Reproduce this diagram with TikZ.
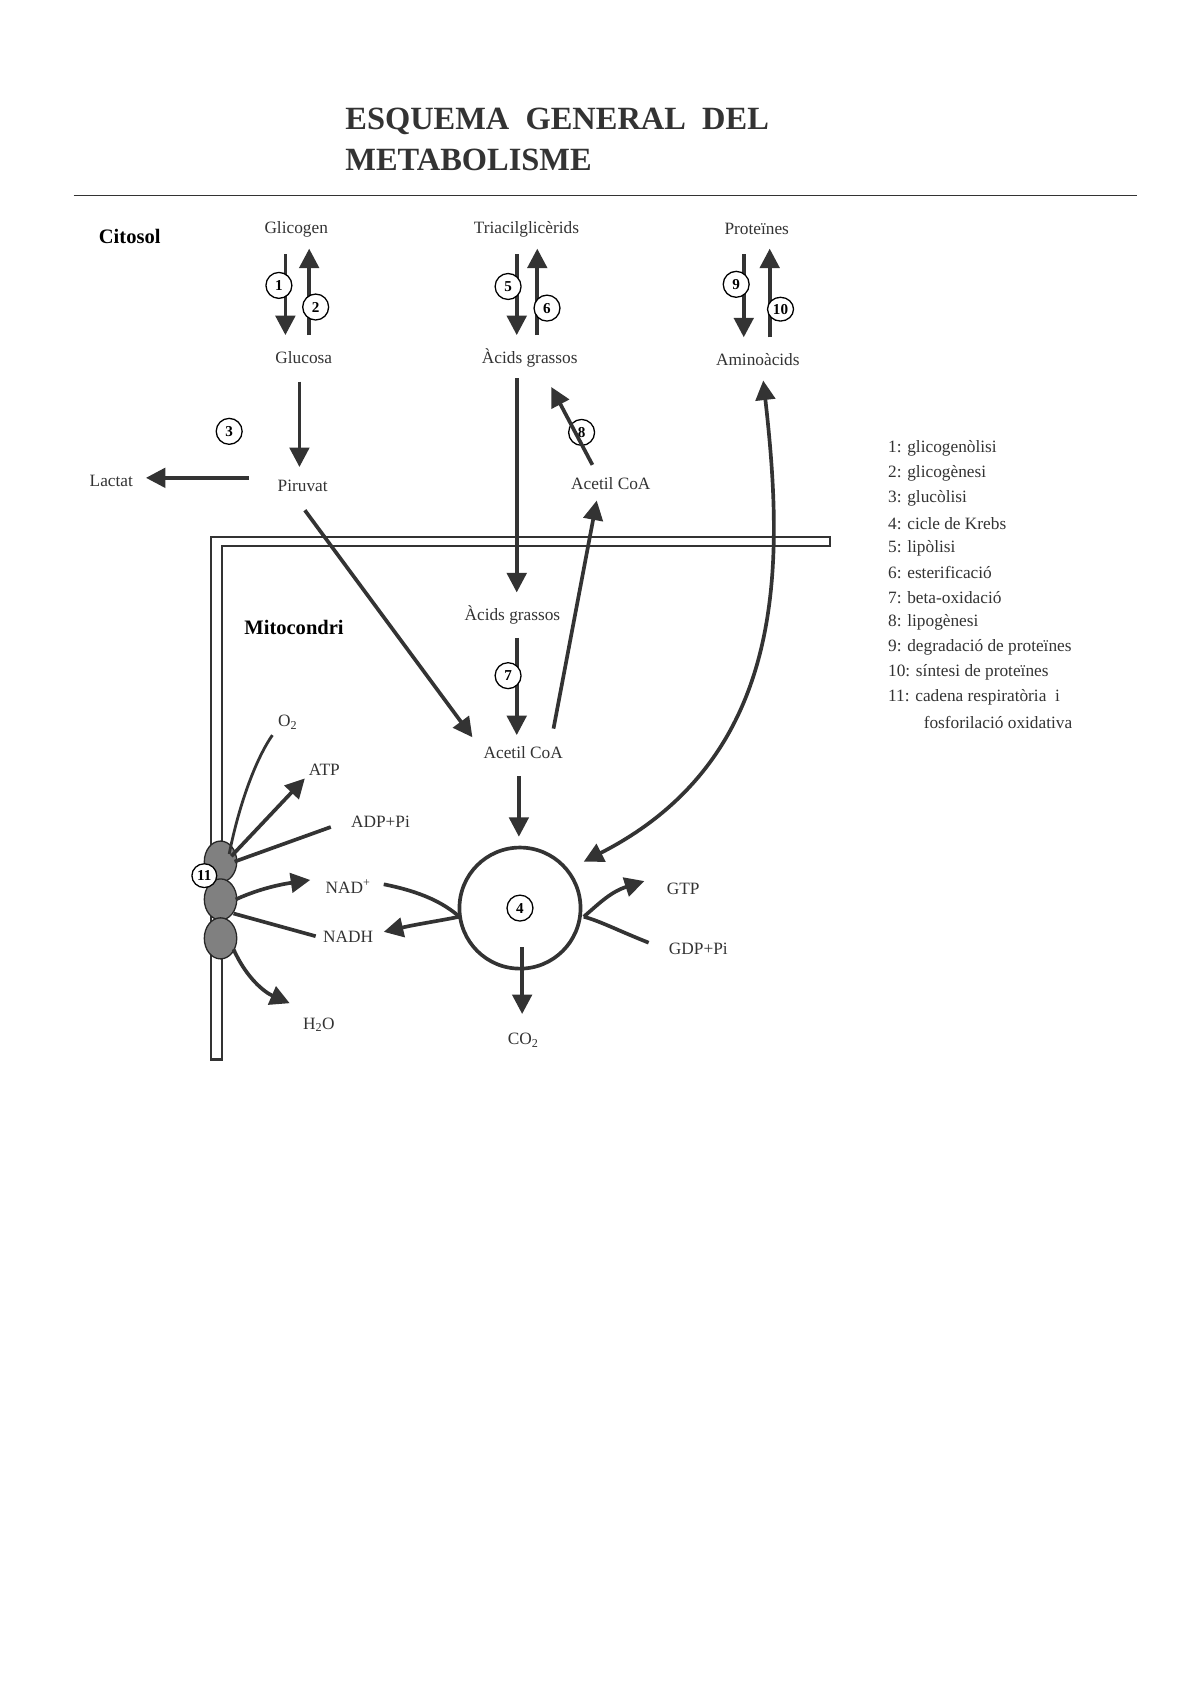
\documentclass[tikz,border=0pt]{standalone}
\usepackage{fontspec}
\setmainfont{Liberation Serif}
\usetikzlibrary{arrows.meta,shapes.geometric}
\begin{document}
\begin{tikzpicture}[x=1pt,y=-1pt,
  lbl/.style={font=\fontsize{16}{18}\selectfont, text=black!80},
  num/.style={circle,draw,line width=1.2pt,fill=white,inner sep=1.5pt,font=\fontsize{14}{15}\selectfont\bfseries, minimum size=24pt},
  numo/.style={ellipse,draw,line width=1.2pt,fill=white,inner sep=1.5pt,font=\fontsize{14}{15}\selectfont\bfseries,minimum height=22pt},
  ar/.style={line width=3.4pt,draw=black!80,-{Triangle[length=18pt,width=18pt]}},
  ln/.style={line width=3.4pt,draw=black!80},
  cplx/.style={ellipse,draw=black!85,line width=1.2pt,fill=black!50,minimum width=30pt,minimum height=38pt,inner sep=0pt}]
\useasboundingbox (0,0) rectangle (1110,1567);
\fill[white] (0,0) rectangle (1110,1567);
% membrane
\draw[black!80,line width=2pt,fill=white] (768,497) -- (195,497) -- (195,980) -- (205,980) -- (205,505) -- (768,505) -- cycle;
% title
\node[anchor=west,font=\fontsize{30}{32}\selectfont\bfseries,text=black!80] (t1) at (316,112) {ESQUEMA\ \ GENERAL\ \ DEL};
\node[anchor=west,font=\fontsize{30}{32}\selectfont\bfseries,text=black!80] (t2) at (316,148) {METABOLISME};
\draw[black!80,line width=1.2pt] (68,181) -- (1052,181);
\node[font=\fontsize{19}{20}\selectfont\bfseries] (cit) at (120,219) {Citosol};
\node[font=\fontsize{19}{20}\selectfont\bfseries] (mit) at (272,580) {Mitocondri};
% top metabolites
\node[lbl] (gli) at (274,212) {Glicogen};
\node[lbl] (tag) at (487,212) {Triacilglicèrids};
\node[lbl] (pro) at (700,212) {Proteïnes};
\node[lbl] (glu) at (281,331) {Glucosa};
\node[lbl] (ag) at (490,331) {Àcids grassos};
\node[lbl] (ami) at (701,333) {Aminoàcids};
\node[lbl] (pir) at (280,449) {Piruvat};
\node[lbl] (lac) at (103,445) {Lactat};
\node[lbl] (acc) at (565,447) {Acetil CoA};
\node[lbl] (agm) at (474,569) {Àcids grassos};
\node[lbl] (acm) at (484,696) {Acetil CoA};
% pairs
\draw[ar] (264,235) -- (264,310);
\draw[ar] (286,310) -- (286,230);
\node[num] (n1) at (258,264) {1};
\node[num] (n2) at (292,284) {2};
\draw[ar] (478,235) -- (478,310);
\draw[ar] (497,310) -- (497,230);
\node[num] (n5) at (470,265) {5};
\node[num] (n6) at (506,285) {6};
\draw[ar] (688,235) -- (688,312);
\draw[ar] (712,312) -- (712,230);
\node[num] (n9) at (681,263) {9};
\node[numo] (n10) at (722,286) {10};
% glycolysis
\draw[ar] (277,353) -- (277,432);
\node[num] (n3) at (212,399) {3};
\draw[ar] (230,442) -- (135,442);
% fatty acids
\draw[ar] (478,350) -- (478,548);
\node[num] (n8) at (538,400) {8};
\draw[ar] (548,430) -- (510,358);
\draw[ar] (478,590) -- (478,680);
\node[num] (n7) at (470,625) {7};
\draw[ar] (282,472) -- (437,682);
\draw[ar] (512,674) -- (552,463);
% krebs
\node[circle,draw=black!80,line width=3.4pt,minimum size=112pt,inner sep=0pt] (kr) at (481,840) {};
\node[num] (n4) at (481,840) {4};
\draw[ar] (480,718) -- (480,774);
\draw[line width=3.4pt,draw=black!80,{Triangle[length=18pt,width=18pt]}-{Triangle[length=18pt,width=18pt]}] (706,352) .. controls (725,520) and (730,700) .. (540,797);
\draw[ar] (483,876) -- (483,938);
\node[lbl] (co2) at (484,962) {CO\textsubscript{2}};
\node[lbl] (gtp) at (632,822) {GTP};
\node[lbl] (gdp) at (646,878) {GDP+Pi};
\draw[ln] (600,872) .. controls (570,860) and (555,852) .. (540,848);
\draw[ar] (540,848) .. controls (555,835) and (565,825) .. (596,815);
\node[lbl] (nad) at (322,820) {NAD\textsuperscript{+}};
\node[lbl] (nadh) at (322,867) {NADH};
\draw[ln] (355,818) .. controls (390,825) and (410,835) .. (425,848);
\draw[ar] (425,848) .. controls (405,852) and (385,855) .. (355,862);
% complex
\node[cplx] (c1) at (204,797) {};
\node[cplx] (c2) at (204,832) {};
\node[cplx] (c3) at (204,868) {};
\node[numo] (n11) at (189,810) {11};
\node[lbl] (o2) at (266,668) {O\textsubscript{2}};
\node[lbl] (atp) at (300,712) {ATP};
\node[lbl] (adp) at (352,760) {ADP+Pi};
\node[lbl] (h2o) at (295,948) {H\textsubscript{2}O};
\draw[line width=2.6pt,draw=black!80] (212,790) .. controls (222,740) and (238,700) .. (252,680);
\draw[ar] (214,792) -- (282,720);
\draw[ln] (306,765) -- (217,797);
\draw[ar] (218,832) .. controls (240,822) and (260,818) .. (287,814);
\draw[ln] (216,845) -- (292,866);
\draw[ar] (216,878) .. controls (228,905) and (245,918) .. (268,928);
% legend
\begin{scope}[every node/.style={anchor=west,font=\fontsize{16}{18}\selectfont,text=black!80}]
\node (l1) at (818,415) {1: glicogenòlisi};
\node (l2) at (818,438) {2: glicogènesi};
\node (l3) at (818,461) {3: glucòlisi};
\node (l4) at (818,484) {4: cicle de Krebs};
\node (l5) at (818,507) {5: lipòlisi};
\node (l6) at (818,530) {6: esterificació};
\node (l7) at (818,553) {7: beta-oxidació};
\node (l8) at (818,576) {8: lipogènesi};
\node (l9) at (818,599) {9: degradació de proteïnes};
\node (l10) at (818,622) {10: síntesi de proteïnes};
\node (l11) at (818,645) {11: cadena respiratòria\ \ i};
\node (l12) at (851,668) {fosforilació oxidativa};
\end{scope}
\end{tikzpicture}
\end{document}
